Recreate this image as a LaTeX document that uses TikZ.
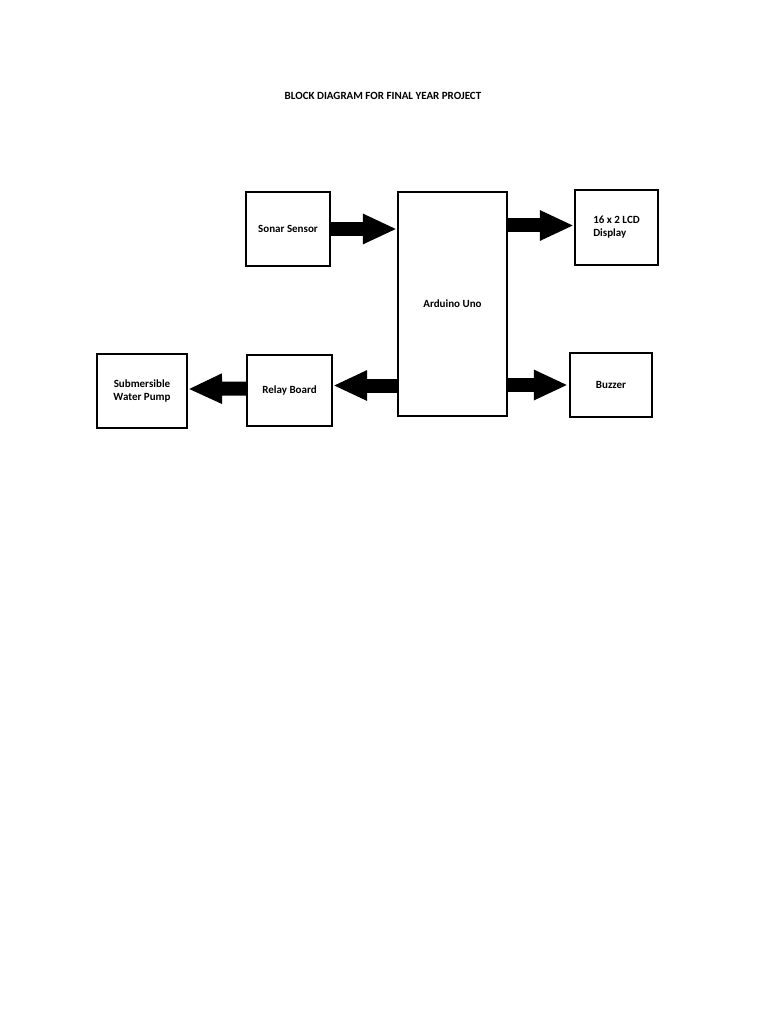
\documentclass[tikz,border=0pt]{standalone}
\usepackage{fontspec}
\setmainfont{Carlito}
\usetikzlibrary{arrows.meta}
\begin{document}
\begin{tikzpicture}[x=1pt,y=-1pt,
  blk/.style={draw,line width=2.2pt,inner sep=0pt,font=\bfseries\fontsize{11}{13}\selectfont,align=left},
  fat/.style={line width=14pt,-{Triangle[length=34pt,width=28pt]}}]
\useasboundingbox (0,0) rectangle (768,1024);
\node[font=\bfseries\fontsize{11}{13}\selectfont] (title) at (383,96) {BLOCK DIAGRAM FOR FINAL YEAR PROJECT};
\node[blk,minimum width=84pt,minimum height=74pt] (sonar) at (288,229) {Sonar Sensor};
\node[blk,minimum width=109pt,minimum height=224pt] (ard) at (452.5,304) {Arduino Uno};
\node[blk,minimum width=83pt,minimum height=75pt] (lcd) at (616.5,227.5) {16 x 2 LCD\\Display};
\node[blk,minimum width=82pt,minimum height=64pt] (buz) at (611,385) {Buzzer};
\node[blk,minimum width=85pt,minimum height=71pt] (relay) at (289.5,390.5) {Relay Board};
\node[blk,minimum width=90pt,minimum height=74pt,align=center] (pump) at (142,391) {Submersible\\Water Pump};
\draw[fat] (sonar.east) -- (sonar.east -| ard.west);
\draw[fat] ([yshift=2pt]ard.east |- lcd.west) -- ([yshift=2pt]lcd.west);
\draw[fat] (ard.east |- buz.west) -- ([xshift=-1pt]buz.west);
\draw[fat] ([yshift=5pt]ard.west |- relay.east) -- ([yshift=5pt]relay.east);
\draw[fat] ([yshift=2pt]relay.west) -- ([yshift=2pt]pump.east);
\end{tikzpicture}
\end{document}
